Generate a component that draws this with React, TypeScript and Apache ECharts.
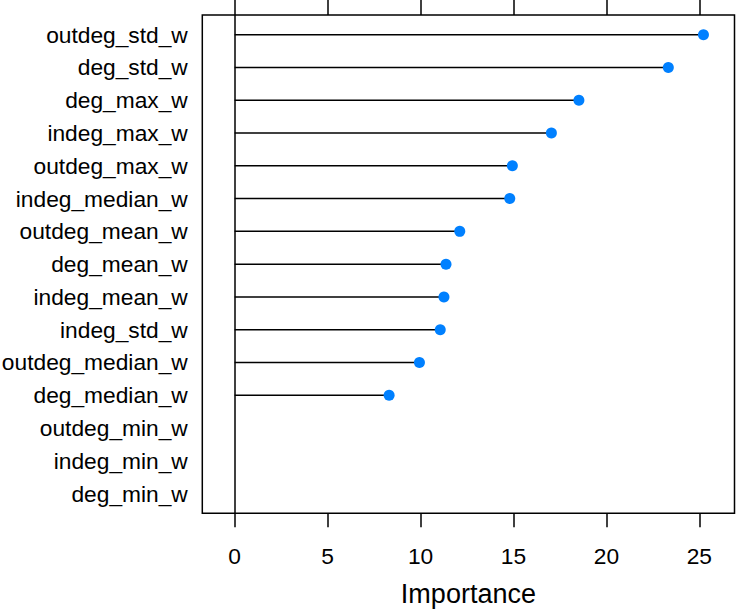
import React, { useEffect, useRef } from "react";
import * as echarts from "echarts";

const categories = [
  "outdeg_std_w",
  "deg_std_w",
  "deg_max_w",
  "indeg_max_w",
  "outdeg_max_w",
  "indeg_median_w",
  "outdeg_mean_w",
  "deg_mean_w",
  "indeg_mean_w",
  "indeg_std_w",
  "outdeg_median_w",
  "deg_median_w",
  "outdeg_min_w",
  "indeg_min_w",
  "deg_min_w",
];

const importance: (number | null)[] = [
  25.22, 23.33, 18.52, 17.04, 14.94, 14.8, 12.11, 11.37, 11.26, 11.06, 9.94, 8.31,
  null, null, null,
];

const xTicks = [0, 5, 10, 15, 20, 25];

export default function App() {
  const ref = useRef<HTMLDivElement>(null);

  useEffect(() => {
    if (!ref.current) return;
    const chart = echarts.init(ref.current, undefined, { renderer: "svg" });
    const points = importance
      .map((v, i) => (v === null ? null : [v, i]))
      .filter((d) => d !== null) as number[][];
    const rowIdx = categories.map((_, i) => i);
    const font = "'Liberation Sans', Arial, Helvetica, sans-serif";
    const lw = 1.5;

    chart.setOption({
      animation: false,
      backgroundColor: "#ffffff",
      grid: {
        left: 202.3,
        right: 5.5,
        top: 15,
        bottom: 96.7,
        containLabel: false,
        outerBoundsMode: "none",
        show: true,
        borderColor: "#000000",
        borderWidth: lw,
        backgroundColor: "transparent",
      },
      xAxis: [
        {
          type: "value",
          position: "bottom",
          min: -1.74,
          max: 26.89,
          name: "Importance",
          nameLocation: "middle",
          nameGap: 67.5,
          nameTextStyle: { fontFamily: font, fontSize: 27, color: "#000" },
          axisLine: { show: false, onZero: false },
          splitLine: { show: false },
          axisTick: {
            show: true,
            inside: false,
            customValues: xTicks,
            length: 14,
            lineStyle: { color: "#000", width: lw },
          },
          axisLabel: {
            show: true,
            customValues: xTicks,
            margin: 31,
            fontFamily: font,
            fontSize: 22.75,
            color: "#000",
          },
        },
        {
          type: "value",
          position: "top",
          min: -1.74,
          max: 26.89,
          axisLine: { show: false, onZero: false },
          splitLine: { show: false },
          axisTick: {
            show: true,
            inside: false,
            customValues: xTicks,
            length: 15,
            lineStyle: { color: "#000", width: lw },
          },
          axisLabel: { show: false },
        },
      ],
      yAxis: {
        type: "value",
        min: -0.6,
        max: 14.6,
        inverse: true,
        axisLine: { show: false, onZero: false },
        splitLine: { show: false },
        axisTick: { show: false },
        axisLabel: {
          show: true,
          customValues: rowIdx,
          margin: 14.5,
          fontFamily: font,
          fontSize: 22.75,
          color: "#000",
          formatter: (v: number) => categories[Math.round(v)] ?? "",
        },
      },
      series: [
        {
          type: "custom",
          xAxisIndex: 0,
          data: points,
          renderItem: (params: any, api: any) => {
            const v = api.value(0);
            const y = api.value(1);
            const p0 = api.coord([0, y]);
            const p1 = api.coord([v, y]);
            return {
              type: "line",
              shape: { x1: p0[0], y1: p0[1], x2: p1[0], y2: p1[1] },
              style: { stroke: "#000000", lineWidth: lw },
            };
          },
          markLine: {
            silent: true,
            symbol: ["none", "none"],
            label: { show: false },
            lineStyle: { color: "#000000", type: "solid", width: lw },
            data: [{ xAxis: 0 }],
          },
          z: 2,
        },
        {
          type: "scatter",
          xAxisIndex: 0,
          data: points,
          symbol: "circle",
          symbolSize: 11,
          itemStyle: { color: "#0080ff", opacity: 1 },
          z: 3,
        },
      ],
    });

    return () => chart.dispose();
  }, []);

  return (
    <div
      ref={ref}
      style={{
        position: "fixed",
        left: 0,
        top: 0,
        width: 740,
        height: 610,
        background: "#ffffff",
      }}
    />
  );
}
